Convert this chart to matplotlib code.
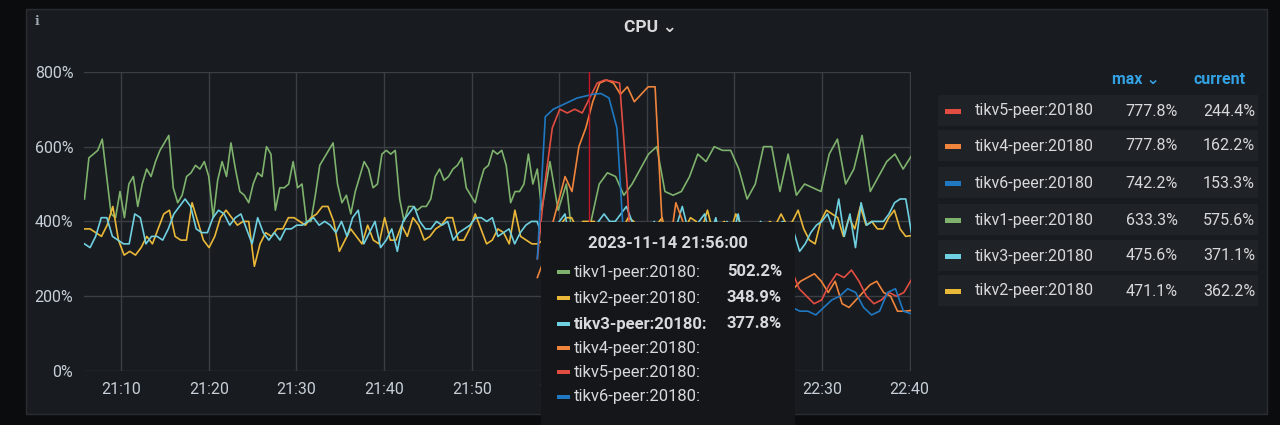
import numpy as np
import matplotlib.pyplot as plt
from matplotlib.patches import Rectangle
from matplotlib.ticker import FixedLocator

plt.rcParams["font.family"] = ["Roboto", "DejaVu Sans"]

# minutes after 21:00
tick_minutes = [10, 20, 30, 40, 50, 60, 70, 80, 90, 100]
tick_labels = ["21:10", "21:20", "21:30", "21:40", "21:50", "22:00", "22:10", "22:20", "22:30", "22:40"]

tikv1_a = [460, 570, 580, 590, 620, 520, 420, 410, 480, 410, 500, 520, 440, 500, 540, 520, 560, 590, 610, 630,
           490, 450, 470, 520, 530, 550, 540, 560, 520, 410, 510, 560, 520, 610, 540, 480, 470, 450, 500, 530,
           520, 600, 580, 430, 490, 490, 500, 560, 490, 500, 400, 400, 470, 550, 570, 590, 610, 500, 450, 470,
           420, 480, 520, 560, 540, 490, 500, 580, 590, 580, 590, 460, 400, 440, 440, 430, 440, 440, 460, 520,
           540, 510, 520, 540, 550, 570, 490, 470, 450, 500, 540, 550, 590, 580, 590, 550, 450, 480, 480, 500,
           580, 500, 540, 430]
tikv1_b = [500, 560, 430, 500, 300, 350, 400, 500, 530, 520, 470, 500, 540, 580, 600, 480, 470, 480, 520, 580,
           560, 600, 590, 590, 540, 460, 500, 600, 600, 480, 580, 470, 500, 490, 480, 580, 620, 500, 540, 630,
           480, 520, 560, 580, 540, 575]
tikv2_vals = [380, 380, 370, 360, 390, 440, 350, 310, 320, 310, 330, 360, 340, 380, 420, 430, 360, 350, 350, 450,
              400, 350, 330, 360, 410, 430, 410, 390, 400, 400, 280, 340, 370, 360, 380, 380, 410, 410, 400, 390,
              410, 420, 440, 440, 400, 320, 350, 380, 360, 340, 390, 350, 340, 410, 350, 350, 390, 360, 410, 390,
              350, 360, 380, 390, 410, 410, 350, 350, 380, 420, 380, 340, 350, 380, 370, 340, 430, 360, 350, 340,
              340, 350, 350, 340, 390, 410, 410, 380, 400, 400, 400, 350, 350, 340, 380, 380, 410, 400, 360, 350,
              380, 390, 410, 330, 300, 340, 380, 410, 400, 380, 430, 370, 390, 400, 370, 420, 390, 380, 370, 350,
              380, 400, 390, 420, 390, 400, 430, 380, 350, 340, 400, 430, 420, 410, 360, 410, 380, 440, 390, 400,
              380, 380, 410, 430, 380, 360, 362]
tikv3_vals = [340, 330, 360, 410, 410, 360, 350, 340, 340, 420, 410, 340, 360, 360, 350, 380, 420, 440, 460, 440,
              380, 370, 370, 410, 430, 420, 390, 410, 420, 380, 340, 410, 370, 350, 370, 350, 380, 380, 390, 390,
              400, 410, 390, 400, 390, 370, 400, 360, 410, 430, 340, 370, 400, 330, 350, 380, 320, 400, 420, 440,
              400, 380, 380, 400, 390, 400, 350, 370, 380, 390, 410, 410, 400, 410, 360, 370, 380, 340, 370, 390,
              400, 400, 360, 370, 380, 400, 420, 340, 340, 320, 360, 380, 400, 420, 400, 400, 420, 440, 400, 330,
              350, 380, 400, 340, 320, 350, 390, 440, 380, 370, 400, 420, 360, 410, 330, 400, 360, 420, 340, 390,
              360, 400, 380, 370, 390, 400, 380, 370, 320, 340, 370, 390, 400, 420, 380, 460, 360, 420, 330, 450,
              390, 400, 400, 400, 420, 450, 460, 460, 371]
tikv4_vals = [250, 300, 380, 450, 520, 480, 600, 650, 720, 770, 778, 770, 740, 760, 720, 740, 760, 760, 400, 320,
              450, 400, 200, 300, 260, 210, 240, 200, 230, 220, 200, 190, 250, 230, 210, 240, 230, 220, 240, 250,
              260, 240, 210, 240, 180, 170, 190, 210, 230, 240, 210, 200, 160, 160, 162]
tikv5_vals = [300, 500, 650, 700, 690, 700, 690, 730, 770, 778, 775, 770, 500, 100, 150, 380, 300, 250, 370, 300,
              200, 350, 150, 200, 250, 220, 200, 230, 200, 190, 220, 180, 200, 210, 270, 220, 200, 180, 190, 230,
              260, 250, 270, 240, 200, 180, 190, 210, 200, 210, 244]
tikv6_vals = [300, 680, 700, 710, 720, 730, 735, 740, 742, 730, 650, 300, 150, 200, 180, 170, 190, 200, 210, 190,
              180, 200, 210, 190, 180, 200, 210, 190, 180, 200, 150, 230, 170, 160, 160, 150, 170, 190, 200, 220,
              210, 170, 150, 160, 210, 220, 160, 153]

names = ["tikv5-peer:20180", "tikv4-peer:20180", "tikv6-peer:20180",
         "tikv1-peer:20180", "tikv3-peer:20180", "tikv2-peer:20180"]
max_vals = ["777.8%", "777.8%", "742.2%", "633.3%", "475.6%", "471.1%"]
cur_vals = ["244.4%", "162.2%", "153.3%", "575.6%", "371.1%", "362.2%"]

tip_names = ["tikv1-peer:20180:", "tikv2-peer:20180:", "tikv3-peer:20180:",
             "tikv4-peer:20180:", "tikv5-peer:20180:", "tikv6-peer:20180:"]
tip_vals = ["502.2%", "348.9%", "377.8%", "", "", ""]

colors = {"tikv1": "#7eb26d", "tikv2": "#eab839", "tikv3": "#6ed0e0",
          "tikv4": "#ef843c", "tikv5": "#e24d42", "tikv6": "#1f78c1"}

t0, t_mid, t_spike, t_end = 5.8, 58.0, 57.5, 100.2

fig = plt.figure(figsize=(12.8, 4.25), dpi=100)
fig.patch.set_facecolor("#0b0c0e")
fig.add_artist(Rectangle((0.02, 0.025), 0.97, 0.955, transform=fig.transFigure,
                         facecolor="#181b1f", edgecolor="#2a2d32", lw=1, zorder=-10))
ax = fig.add_axes([0.066, 0.127, 0.646, 0.704])
ax.set_facecolor("#181b1f")


def span(vals, a, b):
    return np.linspace(a, b, len(vals))


t1 = np.concatenate([span(tikv1_a, t0, t_mid), span(tikv1_b, t_mid, t_end)[1:]])
v1 = tikv1_a + tikv1_b[1:]
ax.plot(t1, v1, color=colors["tikv1"], lw=1.2)
ax.plot(span(tikv2_vals, t0, t_end), tikv2_vals, color=colors["tikv2"], lw=1.2)
ax.plot(span(tikv3_vals, t0, t_end), tikv3_vals, color=colors["tikv3"], lw=1.2)
ax.plot(span(tikv4_vals, t_spike, t_end), tikv4_vals, color=colors["tikv4"], lw=1.2)
ax.plot(span(tikv5_vals, t_spike, t_end), tikv5_vals, color=colors["tikv5"], lw=1.2)
ax.plot(span(tikv6_vals, t_spike, t_end), tikv6_vals, color=colors["tikv6"], lw=1.2)
ax.axvline(63.4, color="#c4162a", lw=1)

ax.set_xlim(t0, t_end)
ax.set_ylim(0, 800)
ax.set_yticks([0, 200, 400, 600, 800])
ax.set_yticklabels(["0%", "200%", "400%", "600%", "800%"])
ax.xaxis.set_major_locator(FixedLocator(tick_minutes))
ax.set_xticklabels(tick_labels)
ax.grid(color="#3b3e43", lw=1)
ax.tick_params(colors="#c7d0d9", labelsize=11.5, length=0, pad=8)
for s in ax.spines.values():
    s.set_visible(False)

fig.text(0.508, 0.935, "CPU \u2304", color="#d8d9da", fontsize=12.5, fontweight="bold", ha="center", va="center")
fig.text(0.029, 0.95, "i", color="#9fa7b3", fontsize=9, fontweight="bold", ha="center", va="center",
         family="DejaVu Serif")

# legend table
fig.text(1160 / 1280, 1 - 79 / 425, "max \u2304", color="#33a2e5", fontsize=11.5, fontweight="bold", ha="right", va="center")
fig.text(1245 / 1280, 1 - 79 / 425, "current", color="#33a2e5", fontsize=11.5, fontweight="bold", ha="right", va="center")
row_y = [111, 146, 183, 220, 256, 291]
for i, (n, mx, cu) in enumerate(zip(names, max_vals, cur_vals)):
    y = 1 - row_y[i] / 425
    fig.add_artist(Rectangle((938 / 1280, y - 15 / 425), 320 / 1280, 31 / 425, transform=fig.transFigure,
                             facecolor="#1f2227", edgecolor="none", zorder=-5))
    fig.add_artist(Rectangle((945 / 1280, y - 2.5 / 425), 16 / 1280, 5 / 425, transform=fig.transFigure,
                             facecolor=colors[n[:5]], edgecolor="none"))
    fig.text(975 / 1280, y, n, color="#d8d9da", fontsize=11.5, va="center")
    fig.text(1178 / 1280, y, mx, color="#d8d9da", fontsize=11.5, va="center", ha="right")
    fig.text(1255 / 1280, y, cu, color="#d8d9da", fontsize=11.5, va="center", ha="right")

# tooltip
fig.add_artist(Rectangle((541 / 1280, 0), 254 / 1280, 203 / 425, transform=fig.transFigure,
                         facecolor="#141619", edgecolor="none", zorder=5))
fig.text(668 / 1280, 1 - 244 / 425, "2023-11-14 21:56:00", color="#d8d9da", fontsize=12,
         fontweight="bold", ha="center", va="center", zorder=6)
tip_y = [272, 298, 324, 348, 372, 397]
for i, (n, v) in enumerate(zip(tip_names, tip_vals)):
    y = 1 - tip_y[i] / 425
    w = "bold" if i == 2 else "normal"
    fig.add_artist(Rectangle((557 / 1280, y - 2 / 425), 13 / 1280, 4 / 425, transform=fig.transFigure,
                             facecolor=colors[n[:5]], edgecolor="none", zorder=6))
    fig.text(574 / 1280, y, n, color="#d8d9da", fontsize=12, fontweight=w, va="center", zorder=6)
    fig.text(782 / 1280, y, v, color="#d8d9da", fontsize=12, fontweight="bold", va="center", ha="right", zorder=6)

fig.savefig("out.png", dpi=100, facecolor=fig.get_facecolor())
